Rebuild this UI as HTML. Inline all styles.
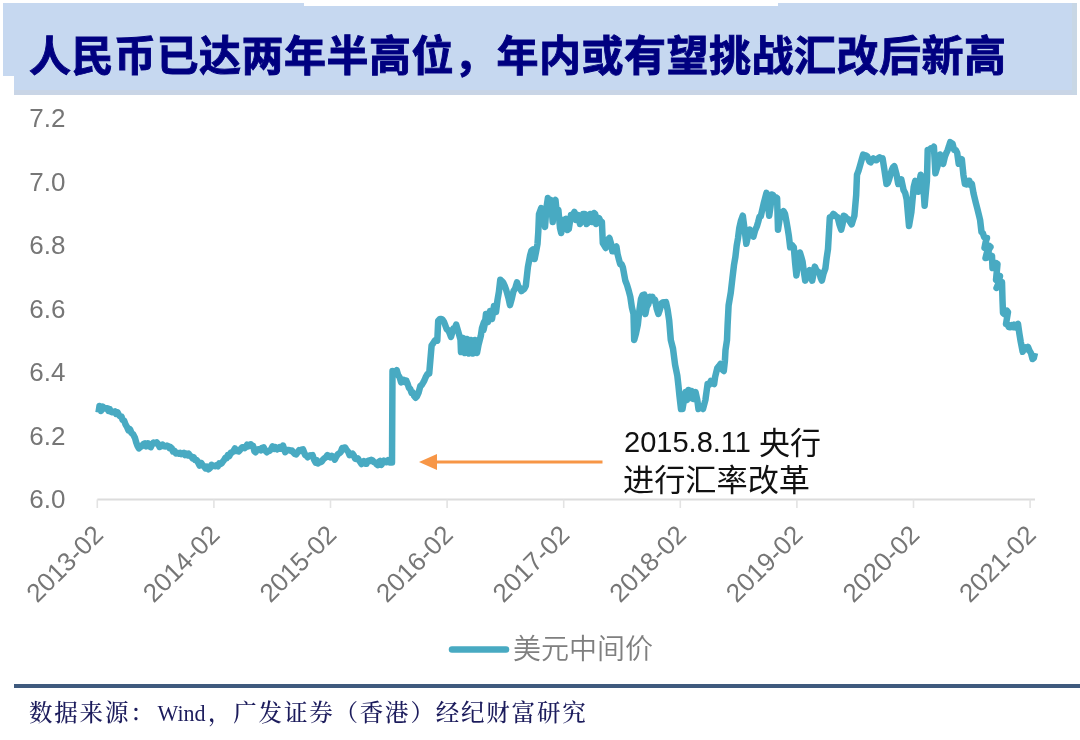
<!DOCTYPE html>
<html><head><meta charset="utf-8"><style>
html,body{margin:0;padding:0;background:#fff;}
body{width:1080px;height:740px;position:relative;overflow:hidden;}
.b1{position:absolute;left:3px;top:3px;width:1074px;height:73px;background:#c6d8f0;}
.b2{position:absolute;left:14px;top:3px;width:1063px;height:91px;background:#c6d8f0;}
.b3{position:absolute;left:14px;top:90px;width:1063px;height:4.5px;background:#c9d5e6;}
.b4{position:absolute;left:1072px;top:3px;width:5px;height:91px;background:#c8d7e5;}
.b5{position:absolute;left:304px;top:3px;width:474px;height:2.5px;background:#fff;}
.title{position:absolute;left:29px;top:36px;font-family:"Liberation Sans","Noto Sans CJK SC",sans-serif;font-weight:700;font-size:42px;line-height:1;color:#000080;white-space:nowrap;letter-spacing:0.5px;-webkit-text-stroke:0.9px #000080;}
svg{position:absolute;left:0;top:0;}
.yl{font-family:"Liberation Sans","Noto Sans CJK SC",sans-serif;font-size:26px;fill:#767676;text-anchor:end;dominant-baseline:central;}
.xl{font-family:"Liberation Sans","Noto Sans CJK SC",sans-serif;font-size:26px;fill:#767676;text-anchor:end;dominant-baseline:central;}
.ann{font-family:"Liberation Sans","Noto Sans CJK SC",sans-serif;font-size:30px;fill:#111;}
.ann2{font-family:"Liberation Sans","Noto Sans CJK SC",sans-serif;font-size:31px;fill:#111;}
.ft{font-family:"Liberation Serif","Noto Serif CJK SC",serif;font-size:23.5px;font-weight:500;letter-spacing:1.8px;fill:#1c1c5c;}
.ftm{font-family:"Liberation Serif",serif;font-size:24px;fill:#1c1c5c;}
.leg{font-family:"Liberation Sans","Noto Sans CJK SC",sans-serif;font-weight:350;font-size:28px;fill:#7f7f7f;}
.hr{position:absolute;left:14px;top:684px;width:1066px;height:4px;background:#3f5a7e;}
</style></head><body>
<div class="b1"></div><div class="b2"></div><div class="b3"></div><div class="b4"></div><div class="b5"></div>
<div class="title">人民币已达两年半高位，年内或有望挑战汇改后新高</div>
<svg width="1080" height="740" viewBox="0 0 1080 740">
<g><text x="65.5" y="499.0" class="yl">6.0</text><text x="65.5" y="435.5" class="yl">6.2</text><text x="65.5" y="372.0" class="yl">6.4</text><text x="65.5" y="308.5" class="yl">6.6</text><text x="65.5" y="245.0" class="yl">6.8</text><text x="65.5" y="181.5" class="yl">7.0</text><text x="65.5" y="118.0" class="yl">7.2</text></g>
<line x1="97.3" y1="499.5" x2="1035" y2="499.5" stroke="#dcdcdc" stroke-width="2"/>
<g stroke="#e3e3e3" stroke-width="1.6"><line x1="97.3" y1="499.5" x2="97.3" y2="508" /><line x1="213.9" y1="499.5" x2="213.9" y2="508" /><line x1="330.5" y1="499.5" x2="330.5" y2="508" /><line x1="447.1" y1="499.5" x2="447.1" y2="508" /><line x1="563.7" y1="499.5" x2="563.7" y2="508" /><line x1="680.3" y1="499.5" x2="680.3" y2="508" /><line x1="796.9" y1="499.5" x2="796.9" y2="508" /><line x1="913.5" y1="499.5" x2="913.5" y2="508" /><line x1="1030.1" y1="499.5" x2="1030.1" y2="508" /></g>
<g><text class="xl" transform="translate(98.3,530) rotate(-45)">2013-02</text><text class="xl" transform="translate(214.9,530) rotate(-45)">2014-02</text><text class="xl" transform="translate(331.5,530) rotate(-45)">2015-02</text><text class="xl" transform="translate(448.1,530) rotate(-45)">2016-02</text><text class="xl" transform="translate(564.7,530) rotate(-45)">2017-02</text><text class="xl" transform="translate(681.3,530) rotate(-45)">2018-02</text><text class="xl" transform="translate(797.9,530) rotate(-45)">2019-02</text><text class="xl" transform="translate(914.5,530) rotate(-45)">2020-02</text><text class="xl" transform="translate(1031.1,530) rotate(-45)">2021-02</text></g>
<path d="M98.5,412.5 L99.5,406.0 L101.0,411.0 L102.5,406.5 L104.8,408.5 L106.0,408.3 L107.3,408.2 L108.5,411.0 L109.7,409.1 L111.0,411.7 L112.2,412.2 L113.5,412.2 L114.9,411.4 L116.2,413.9 L117.6,412.4 L118.9,415.0 L120.1,416.4 L121.4,416.4 L122.6,420.0 L124.1,420.5 L125.5,424.3 L127.0,427.0 L128.5,430.4 L130.0,429.3 L131.5,433.0 L133.2,434.3 L135.0,438.0 L136.2,442.4 L137.4,445.6 L138.9,448.3 L140.4,447.0 L141.9,446.1 L143.3,444.1 L144.8,443.3 L146.3,446.4 L147.8,443.3 L149.3,446.3 L150.8,447.1 L152.2,443.9 L153.7,442.5 L155.2,443.3 L156.7,442.4 L158.1,444.0 L159.6,446.9 L161.1,446.3 L162.6,444.7 L164.1,446.3 L165.5,446.4 L167.0,445.6 L168.2,446.2 L169.4,448.2 L170.6,447.2 L171.8,448.4 L173.0,451.5 L174.5,450.8 L175.9,453.4 L177.4,452.8 L178.9,453.7 L180.1,452.9 L181.4,454.1 L182.6,453.5 L183.8,452.8 L185.1,455.0 L186.3,453.7 L187.5,455.2 L188.8,453.8 L190.0,455.9 L191.2,456.3 L192.5,458.4 L193.7,457.4 L195.2,460.1 L196.6,459.9 L198.1,462.6 L199.6,465.6 L201.1,462.8 L202.5,465.0 L204.0,466.3 L205.5,468.4 L207.0,466.8 L208.5,469.3 L210.0,468.0 L211.5,464.8 L213.0,465.6 L214.2,466.1 L215.5,466.2 L216.7,465.1 L217.9,466.2 L219.2,463.4 L220.4,464.0 L221.6,463.4 L222.9,461.5 L224.1,460.0 L225.3,457.9 L226.6,458.2 L227.8,455.2 L229.3,456.0 L230.8,452.8 L232.2,452.5 L233.7,450.7 L234.9,448.4 L236.2,450.9 L237.4,450.2 L238.6,451.4 L239.9,450.3 L241.1,448.5 L242.3,447.2 L243.5,447.2 L244.7,448.1 L245.9,447.0 L247.1,444.6 L248.3,446.3 L249.5,444.7 L250.7,444.2 L251.9,445.6 L253.1,445.9 L254.4,451.2 L255.6,452.2 L256.9,449.7 L258.2,449.3 L259.6,449.1 L260.9,450.3 L262.2,447.8 L263.7,447.4 L265.2,450.5 L266.7,452.2 L268.2,450.9 L269.6,450.9 L271.1,449.2 L272.6,446.3 L274.1,448.9 L275.5,447.3 L277.0,449.3 L278.2,448.2 L279.4,447.2 L280.6,448.8 L281.8,448.4 L283.0,445.6 L285.2,452.2 L286.5,450.3 L287.8,450.0 L289.1,449.9 L290.4,450.7 L291.9,450.5 L293.4,452.5 L294.8,453.9 L296.3,454.4 L297.6,452.3 L299.0,450.2 L300.3,451.0 L301.7,449.7 L303.0,449.3 L305.2,455.2 L306.4,455.5 L307.7,457.2 L308.9,456.0 L310.1,455.3 L311.4,455.7 L312.6,455.2 L314.1,459.7 L315.6,462.6 L316.8,460.1 L318.1,463.4 L319.3,462.3 L320.5,462.2 L321.8,461.4 L323.0,459.6 L324.5,458.2 L325.9,457.3 L327.4,455.1 L328.9,455.9 L330.4,457.4 L331.9,455.8 L333.3,456.8 L334.8,459.6 L336.3,456.5 L337.8,454.4 L339.2,453.3 L340.7,452.2 L342.2,448.0 L343.7,447.8 L345.2,447.5 L346.6,450.0 L348.1,451.6 L349.6,455.2 L351.1,454.8 L352.5,453.6 L354.0,455.9 L355.2,458.9 L356.5,459.1 L357.8,458.4 L359.0,460.2 L360.2,462.0 L361.5,464.0 L362.7,462.8 L364.0,461.1 L365.2,463.7 L366.4,463.8 L367.7,460.9 L368.9,460.4 L370.1,460.9 L371.4,459.8 L372.6,460.4 L373.8,462.1 L375.1,462.4 L376.3,464.0 L377.6,465.1 L378.8,461.9 L380.1,461.0 L381.4,464.8 L382.7,462.6 L383.9,460.6 L385.2,461.9 L386.7,462.3 L388.1,460.2 L389.6,462.5 L391.1,462.6 L392.0,462.6 L392.5,371.0 L393.9,372.8 L395.3,372.0 L396.7,370.1 L398.2,375.1 L399.6,377.2 L401.1,382.4 L402.4,381.4 L403.7,380.0 L405.0,382.2 L406.3,380.6 L407.6,383.8 L409.0,388.0 L410.3,389.1 L411.6,392.9 L412.9,392.6 L414.2,396.0 L415.6,397.7 L416.9,396.4 L418.6,392.7 L420.4,385.9 L421.7,385.0 L423.0,382.9 L424.4,380.4 L425.7,377.1 L427.4,374.1 L429.2,373.6 L430.4,359.6 L431.6,345.4 L433.0,343.6 L434.5,341.0 L435.9,339.8 L437.3,340.7 L438.2,320.8 L440.1,318.9 L441.4,318.9 L442.6,319.7 L443.9,321.7 L445.3,325.4 L446.8,329.4 L448.2,330.0 L449.6,333.1 L451.0,336.9 L453.4,328.4 L454.8,328.4 L456.2,324.6 L458.1,331.2 L460.5,339.7 L461.0,352.0 L463.0,338.0 L465.0,353.0 L467.0,339.0 L469.0,353.5 L471.0,340.0 L473.0,353.5 L475.0,340.0 L477.0,353.0 L478.5,345.0 L480.8,335.9 L482.0,328.0 L484.0,322.0 L483.5,330.0 L484.8,324.1 L486.0,314.0 L488.0,322.0 L490.0,311.0 L492.0,319.0 L494.0,306.0 L496.0,312.0 L497.5,300.0 L498.9,291.9 L500.3,279.7 L500.3,279.7 L500.3,279.7 L501.8,281.1 L503.2,282.5 L504.7,285.8 L506.0,289.4 L507.4,294.1 L508.7,299.0 L510.0,305.1 L511.8,298.6 L513.5,291.1 L515.2,288.5 L517.0,282.3 L518.5,286.7 L519.9,288.1 L521.4,291.1 L522.9,290.0 L524.3,288.9 L525.8,285.8 L527.9,267.0 L530.1,255.3 L531.5,250.5 L533.0,249.4 L534.6,259.0 L536.0,252.0 L537.5,244.0 L538.3,231.6 L539.0,214.0 L541.2,208.0 L543.5,214.0 L545.0,227.0 L546.4,208.0 L547.9,198.0 L549.0,214.0 L551.0,200.0 L552.7,222.0 L554.0,202.0 L555.5,200.0 L557.0,215.0 L558.4,210.0 L560.0,228.0 L561.2,233.0 L563.0,220.0 L564.5,220.2 L565.9,219.0 L567.5,230.0 L568.8,229.0 L571.0,215.0 L572.7,215.3 L574.4,212.0 L576.0,220.0 L578.2,215.0 L580.0,224.0 L581.1,222.0 L583.0,214.0 L584.8,214.0 L586.5,224.0 L587.7,223.0 L590.0,214.0 L592.0,222.0 L594.0,213.0 L595.2,214.0 L596.2,224.0 L597.6,222.2 L599.0,218.0 L600.5,221.1 L601.9,222.0 L602.8,243.0 L604.2,245.4 L605.7,248.0 L607.5,240.0 L609.4,238.0 L610.9,243.2 L612.4,251.3 L613.7,251.0 L615.1,247.4 L616.4,246.5 L617.6,254.3 L618.9,259.4 L620.2,264.2 L621.6,264.3 L622.9,267.5 L625.3,280.5 L627.0,284.9 L628.6,290.2 L630.3,296.8 L631.9,307.4 L633.5,314.0 L634.2,340.0 L636.0,333.4 L637.8,324.9 L639.4,310.4 L641.0,298.9 L642.6,295.1 L644.3,294.6 L645.4,314.0 L646.8,306.7 L648.3,304.3 L649.7,296.8 L651.1,298.9 L652.4,296.8 L653.8,300.6 L655.1,300.0 L656.8,309.1 L658.4,314.0 L660.0,309.3 L661.6,303.2 L663.1,302.2 L664.5,302.7 L666.0,302.2 L667.6,309.7 L669.2,320.5 L670.8,340.0 L673.0,348.6 L675.1,364.9 L677.3,375.7 L678.4,385.4 L679.5,396.2 L681.0,409.0 L682.5,409.0 L684.0,400.0 L685.5,392.0 L687.0,400.0 L688.5,390.0 L690.0,398.0 L691.5,391.0 L693.5,399.0 L695.5,392.0 L697.3,400.0 L698.5,409.0 L699.8,405.9 L701.0,407.0 L703.0,409.0 L705.4,400.0 L707.6,384.0 L709.2,384.6 L710.8,381.0 L712.5,383.2 L714.1,384.0 L715.1,377.0 L717.3,368.0 L718.9,366.1 L720.5,364.0 L722.1,369.4 L723.8,371.0 L724.9,361.0 L725.5,350.0 L727.0,340.0 L727.6,324.9 L728.6,305.4 L730.8,292.4 L732.4,278.4 L734.0,265.0 L735.4,256.9 L736.7,245.5 L738.0,238.2 L739.3,228.0 L741.0,220.6 L742.8,215.7 L744.5,228.7 L746.3,243.8 L747.5,238.2 L748.7,233.3 L749.9,229.7 L751.6,233.6 L753.4,236.7 L755.1,230.4 L756.9,226.2 L758.2,221.9 L759.5,216.7 L760.8,216.2 L762.1,210.4 L763.6,203.9 L765.0,198.5 L766.5,192.8 L767.9,204.6 L769.2,215.7 L770.5,206.9 L771.8,194.6 L773.1,195.1 L774.5,198.2 L775.8,197.2 L777.1,198.1 L778.0,229.7 L779.3,221.0 L780.6,212.1 L782.1,212.8 L783.5,211.2 L785.0,213.9 L786.3,220.7 L787.6,228.0 L788.9,236.3 L790.2,247.3 L792.0,245.1 L793.8,247.3 L795.1,262.7 L796.4,275.4 L798.1,262.5 L799.9,252.5 L801.2,256.8 L802.5,261.3 L803.9,271.9 L805.2,280.6 L806.7,277.3 L808.1,272.8 L809.6,270.1 L810.9,275.4 L812.2,280.6 L813.5,273.8 L814.8,266.6 L816.5,270.5 L818.3,271.9 L819.5,273.1 L820.7,278.0 L821.9,280.6 L823.6,273.3 L825.4,268.3 L826.7,257.7 L828.0,249.0 L829.8,217.4 L831.5,216.8 L833.3,213.9 L834.8,215.1 L836.2,216.5 L837.7,217.4 L839.5,224.7 L841.2,229.7 L842.5,224.5 L843.8,215.7 L845.3,216.6 L846.7,218.5 L848.2,219.2 L850.0,221.8 L851.7,224.4 L853.0,220.1 L854.4,215.7 L856.2,194.9 L857.0,174.7 L858.5,170.9 L860.1,165.4 L861.7,159.7 L863.2,154.5 L864.5,155.2 L865.8,155.5 L867.1,156.1 L869.4,161.5 L870.7,162.4 L872.0,160.3 L873.3,158.4 L874.9,160.1 L876.4,160.3 L878.0,158.4 L879.5,157.3 L881.1,158.7 L882.6,158.4 L884.2,168.5 L886.5,184.0 L887.8,182.9 L889.1,179.3 L890.4,174.7 L891.7,170.3 L893.0,167.4 L894.3,166.2 L896.6,174.7 L898.2,184.0 L899.8,181.4 L901.3,179.4 L903.6,190.2 L905.2,193.0 L906.7,199.6 L909.0,226.0 L911.4,212.0 L913.7,187.1 L915.2,180.9 L916.8,185.2 L918.3,191.8 L919.5,181.4 L920.7,174.7 L923.0,180.9 L924.6,205.8 L926.9,180.9 L927.7,149.9 L929.2,149.8 L930.8,148.3 L932.3,148.7 L933.9,146.7 L935.4,173.2 L937.8,165.4 L940.1,154.5 L941.7,160.9 L943.2,163.8 L944.8,156.9 L946.3,153.0 L947.6,150.3 L948.9,146.4 L950.2,142.1 L952.5,143.6 L954.1,149.9 L955.7,149.9 L957.2,153.0 L958.7,163.8 L960.2,163.2 L961.8,159.2 L963.4,174.7 L964.9,184.0 L966.5,184.5 L968.0,180.9 L969.3,180.7 L970.6,185.0 L971.9,184.0 L973.5,193.3 L975.8,202.7 L977.3,208.5 L978.9,215.1 L980.1,220.0 L981.5,232.0 L982.9,233.4 L984.2,237.2 L985.6,238.0 L987.0,238.0 L985.8,241.5 L984.5,248.0 L985.7,247.5 L986.9,247.7 L988.1,246.7 L989.3,245.9 L990.5,247.0 L989.2,249.0 L988.0,253.5 L986.8,253.1 L985.5,258.0 L986.8,257.8 L988.1,256.9 L989.4,254.7 L990.7,255.7 L992.0,256.0 L992.5,268.0 L993.8,267.5 L995.0,266.1 L996.2,263.1 L997.5,264.0 L996.0,280.0 L997.3,280.8 L998.7,278.6 L1000.0,276.0 L998.2,284.1 L996.5,288.0 L997.9,284.8 L999.2,284.0 L1000.6,281.5 L1002.0,282.0 L1002.5,300.0 L1003.0,313.0 L1004.2,314.0 L1005.5,311.5 L1006.8,310.6 L1008.0,312.0 L1006.0,324.0 L1007.4,324.3 L1008.8,327.0 L1010.2,327.2 L1011.6,325.3 L1013.0,327.0 L1014.2,324.7 L1015.5,327.3 L1016.8,325.1 L1018.0,324.0 L1019.4,333.7 L1020.7,341.6 L1022.7,351.8 L1024.0,348.8 L1025.3,347.5 L1026.7,349.0 L1028.0,347.0 L1029.5,350.7 L1031.0,353.1 L1032.5,359.0 L1033.8,357.9 L1035.0,353.0" fill="none" stroke="#48aac2" stroke-width="6.5" stroke-linejoin="round" stroke-linecap="butt"/>
<line x1="602.5" y1="462" x2="432" y2="462" stroke="#f79646" stroke-width="3"/>
<polygon points="419,462 437,454 437,470" fill="#f79646"/>
<text class="ann" x="624" y="451.5" textLength="127" lengthAdjust="spacingAndGlyphs">2015.8.11</text>
<text class="ann2" x="759" y="453.5">央行</text>
<text class="ann2" x="623" y="491" textLength="187" lengthAdjust="spacingAndGlyphs">进行汇率改革</text>
<line x1="452" y1="649.5" x2="506" y2="649.5" stroke="#48aac2" stroke-width="6.5" stroke-linecap="round"/>
<text class="leg" x="513" y="659">美元中间价</text>
<text class="ft" x="29" y="721">数据来源：</text><text class="ftm" x="157.5" y="720.5" textLength="48" lengthAdjust="spacingAndGlyphs">Wind</text><text class="ft" x="208" y="721">，广发证券（香港）经纪财富研究</text>
</svg>
<div class="hr"></div>

</body></html>
